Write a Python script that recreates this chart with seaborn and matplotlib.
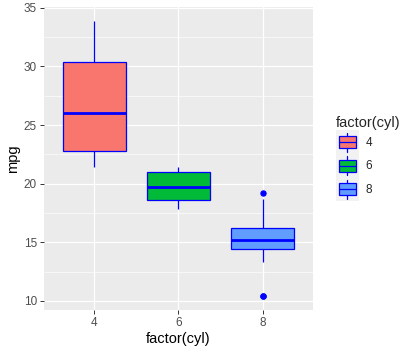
import numpy as np
import pandas as pd
import seaborn as sns
import matplotlib.pyplot as plt
from matplotlib.patches import Rectangle
from matplotlib.lines import Line2D
from matplotlib.legend_handler import HandlerBase

# mtcars mpg grouped by cylinder count
mpg_4 = [22.8, 24.4, 22.8, 32.4, 30.4, 33.9, 21.5, 27.3, 26.0, 30.4, 21.4]
mpg_6 = [21.0, 21.0, 21.4, 18.1, 19.2, 17.8, 19.7]
mpg_8 = [18.7, 14.3, 16.4, 17.3, 15.2, 10.4, 10.4, 14.7, 15.5, 15.2, 13.3, 19.2, 15.8, 15.0]
cyl_levels = ["4", "6", "8"]
fill_colors = ["#F8766D", "#00BA38", "#619CFF"]

df = pd.DataFrame({
    "cyl": ["4"] * len(mpg_4) + ["6"] * len(mpg_6) + ["8"] * len(mpg_8),
    "mpg": mpg_4 + mpg_6 + mpg_8,
})

sns.set_theme(style="darkgrid", rc={
    "axes.facecolor": "#EBEBEB",
    "grid.color": "white",
    "axes.edgecolor": "none",
})
plt.rcParams["font.family"] = ["Liberation Sans", "DejaVu Sans"]

fig = plt.figure(figsize=(4.1, 3.54), dpi=100)
ax = fig.add_axes([44 / 410, 1 - 310 / 354, (313 - 44) / 410, (310 - 7) / 354])

sns.boxplot(
    data=df, x="cyl", y="mpg", hue="cyl", order=cyl_levels, hue_order=cyl_levels,
    palette=fill_colors, linecolor="blue", linewidth=0.9, width=0.75,
    showcaps=False, saturation=1, legend=False, ax=ax,
    medianprops=dict(linewidth=2),
    flierprops=dict(marker="o", markerfacecolor="blue", markeredgecolor="blue", markersize=3.6),
)

ax.set_xlim(-0.6, 2.6)
ax.set_ylim(9.225, 35.075)
ax.set_yticks([10, 15, 20, 25, 30, 35])
ax.set_yticks(np.arange(12.5, 35, 5), minor=True)
ax.grid(True, which="major", color="white", linewidth=0.9)
ax.grid(True, which="minor", axis="y", color="white", linewidth=0.45)
ax.set_axisbelow(True)
ax.tick_params(which="major", length=3, width=0.7, color="#333333", labelcolor="#4D4D4D",
               labelsize=8.5, pad=2, left=True, bottom=True)
ax.tick_params(which="minor", length=0)
ax.set_xlabel("factor(cyl)", fontsize=10.5, color="black", labelpad=2)
ax.set_ylabel("mpg", fontsize=10.5, color="black", labelpad=3)
for s in ax.spines.values():
    s.set_visible(False)


class BoxKey(HandlerBase):
    def create_artists(self, legend, orig_handle, xdescent, ydescent, width, height, fontsize, trans):
        x0, y0 = -xdescent, -ydescent
        fc = orig_handle.get_facecolor()
        bg = Rectangle((x0, y0), width, height, facecolor="#F2F2F2", edgecolor="none", transform=trans)
        box = Rectangle((x0 + width * 0.1, y0 + height * 0.25), width * 0.8, height * 0.5,
                        facecolor=fc, edgecolor="blue", linewidth=0.9, transform=trans)
        med = Line2D([x0 + width * 0.1, x0 + width * 0.9], [y0 + height * 0.5] * 2,
                     color="blue", linewidth=0.9, transform=trans)
        w1 = Line2D([x0 + width / 2] * 2, [y0 + height * 0.1, y0 + height * 0.25],
                    color="blue", linewidth=0.9, transform=trans)
        w2 = Line2D([x0 + width / 2] * 2, [y0 + height * 0.75, y0 + height * 0.9],
                    color="blue", linewidth=0.9, transform=trans)
        return [bg, box, med, w1, w2]


handles = [Rectangle((0, 0), 1, 1, facecolor=c) for c in fill_colors]
fig.legend(handles, cyl_levels, title="factor(cyl)", handler_map={Rectangle: BoxKey(ypad=0)},
           loc="upper left", bbox_to_anchor=(328 / 410, 1 - 108 / 354), frameon=False,
           fontsize=8.5, title_fontsize=10.5, labelspacing=0, handleheight=2.7,
           handlelength=1.9, handletextpad=0.6, borderpad=0.2, alignment="left")

fig.savefig("out.png", dpi=100)
